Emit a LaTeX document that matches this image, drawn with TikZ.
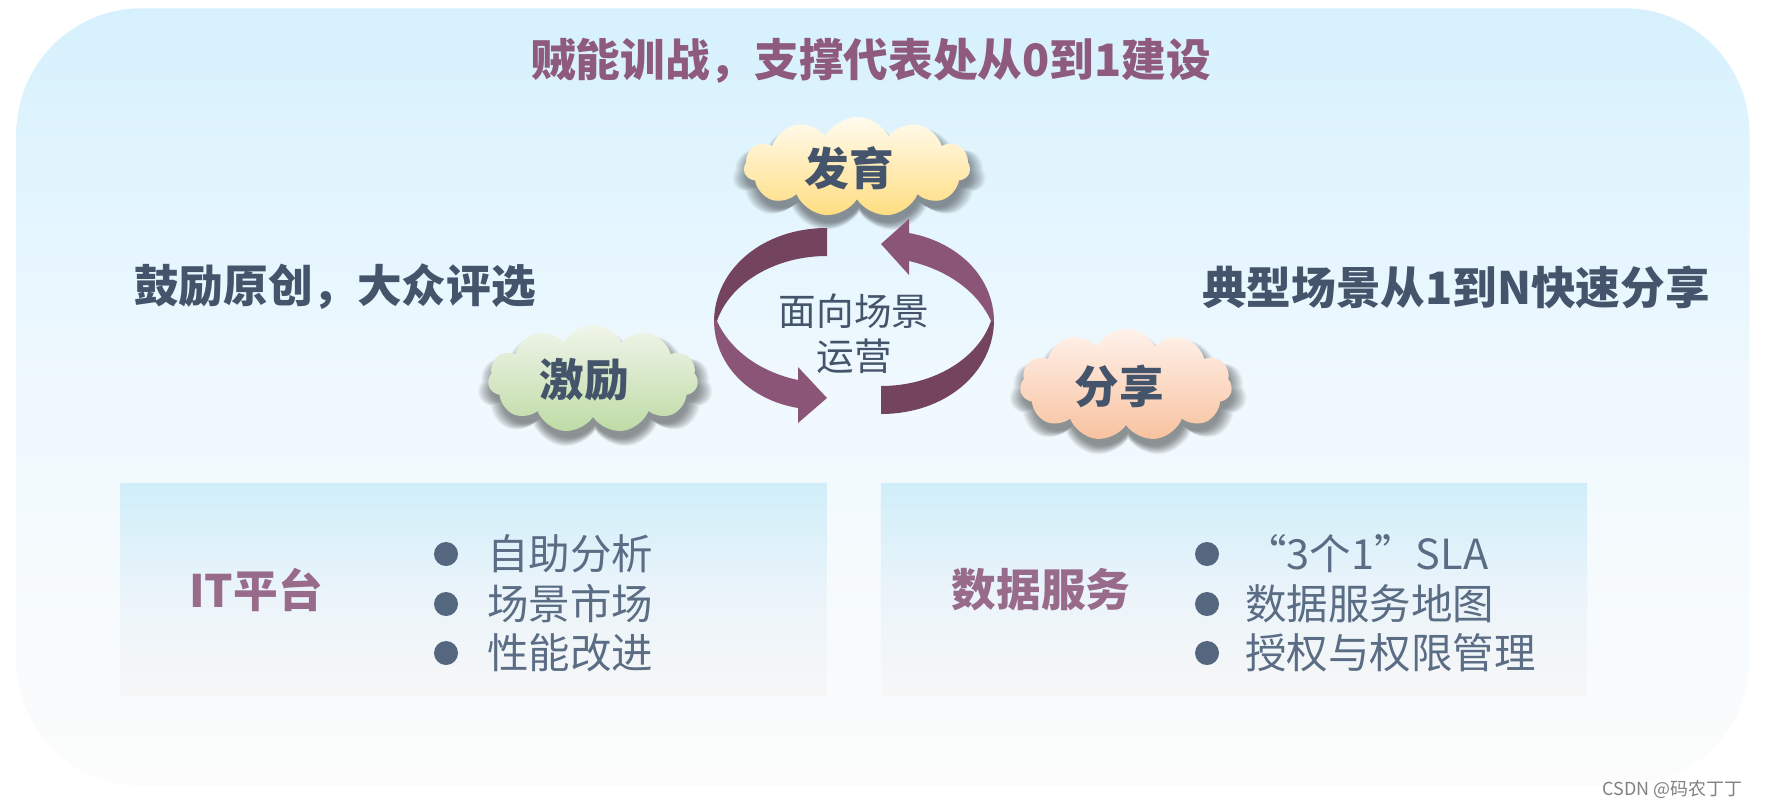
\documentclass[tikz,border=0pt]{standalone}
\usepackage{fontspec}
\setmainfont{Noto Sans CJK SC}
\usetikzlibrary{shapes.symbols,shadows}

\definecolor{slate}{HTML}{44546A}
\definecolor{itemtext}{HTML}{5B6D85}
\definecolor{itemdot}{HTML}{54677F}
\definecolor{plum}{HTML}{8E5A7E}
\definecolor{ringdark}{HTML}{74445F}
\definecolor{ringlight}{HTML}{8B5578}
\definecolor{paneltop}{HTML}{D6F1FD}
\definecolor{panelmid}{HTML}{F0F9FE}
\definecolor{panelend}{HTML}{FCFCFC}
\definecolor{bandtop}{HTML}{D0EEF9}
\definecolor{bandmid}{HTML}{EAF4FA}
\definecolor{bandend}{HTML}{F7F7F8}

\pgfdeclareverticalshading{panelfade}{100bp}{
  color(0bp)=(panelend);
  color(25bp)=(panelend);
  color(50bp)=(panelmid);
  color(75bp)=(paneltop);
  color(100bp)=(paneltop)}
\pgfdeclareverticalshading{bandfade}{100bp}{
  color(0bp)=(bandend);
  color(25bp)=(bandend);
  color(50bp)=(bandmid);
  color(75bp)=(bandtop);
  color(100bp)=(bandtop)}

\tikzset{
    panel/.style = {
        rectangle,
        rounded corners = 1.25cm,
        inner sep       = 0pt,
        minimum width   = 17.32cm,
        minimum height  = 7.77cm,
        shading         = panelfade,
    },
    band/.style = {
        rectangle,
        inner sep       = 0pt,
        minimum width   = 7.06cm,
        minimum height  = 2.11cm,
        shading         = bandfade,
    },
    softlayer/.style = {
        general shadow = {
            fill          = black,
            opacity       = .035,
            shadow xshift = .02cm,
            shadow yshift = -.08cm,
            shadow scale  = #1,
        },
    },
    puff/.style = {
        cloud,
        cloud puffs     = 11,
        cloud puff arc  = 125,
        aspect          = 2,
        inner sep       = 0pt,
        softlayer/.list = {1.12,1.11,1.10,1.09,1.08,1.07,1.06,1.05,1.04,1.03,1.02,1.01,1,.98},
    },
    headline/.style = {
        font = \fontsize{12.7}{15}\selectfont\bfseries,
        text = slate,
    },
    bandtitle/.style = {
        font = \fontsize{12.7}{15}\selectfont\bfseries,
        text = plum,
    },
    item/.style = {
        anchor = west,
        font   = \fontsize{11.8}{14}\selectfont,
        text   = itemtext,
    },
    dot/.style = {
        circle,
        fill          = itemdot,
        inner sep     = 0pt,
        minimum size  = .24cm,
    },
}

\begin{document}
\begin{tikzpicture}[x=.01cm,y=-.01cm]
  \useasboundingbox (0,0) rectangle (1766,806);

  % Fundo
  \node[panel] (Panel) at (883,397) {};
  \node[band] (ITBand) at (473.5,589.5) {};
  \node[band] (DataBand) at (1234,589.5) {};

  % Titulos
  \node[bandtitle] (Title) at (871,61) {贼能训战，支撑代表处从0到1建设};
  \node[headline] (LeftNote) at (335,287) {鼓励原创，大众评选};
  \node[headline] (RightNote) at (1456,287) {典型场景从1到N快速分享};

  % Nuvens
  \node[puff,top color={rgb,255:red,255;green,251;blue,239},bottom color={rgb,255:red,255;green,221;blue,128},minimum width=2.26cm,minimum height=1cm] (FayuCloud) at (857,167) {};
  \node[puff,top color={rgb,255:red,240;green,245;blue,234},bottom color={rgb,255:red,190;green,219;blue,165},minimum width=2.1cm,minimum height=1.08cm] (JiliCloud) at (593,379) {};
  \node[puff,top color={rgb,255:red,255;green,242;blue,235},bottom color={rgb,255:red,248;green,194;blue,159},minimum width=2.12cm,minimum height=1.12cm] (FenxiangCloud) at (1126,385) {};
  \node[headline] (Fayu) at (849,168) {发育};
  \node[headline] (Jili) at (584,380) {激励};
  \node[headline] (Fenxiang) at (1119,386) {分享};

  % Anel
  \fill[ringdark] (827,228) .. controls (762,228) and (714,270) .. (714,322)
    .. controls (716,322) .. (717,321) .. controls (730,283) and (775,256) .. (827,256) -- cycle;
  \fill[ringlight] (717,321) .. controls (730,350) and (760,372) .. (798,380) -- (798,367) -- (827,398)
    -- (798,423) -- (798,408) .. controls (750,400) and (714,365) .. (714,320) -- cycle;
  \fill[ringdark] (881,414) .. controls (946,414) and (994,372) .. (994,320)
    .. controls (992,320) .. (991,321) .. controls (978,359) and (933,386) .. (881,386) -- cycle;
  \fill[ringlight] (991,321) .. controls (978,292) and (948,270) .. (909,261) -- (909,275) -- (881,244)
    -- (909,219) -- (909,233) .. controls (958,242) and (994,277) .. (994,322) -- cycle;
  \node[align=center,text=slate,font=\fontsize{10.7}{12.9}\selectfont] (Center) at (854,334) {面向场景\\运营};

  % Lista IT
  \node[bandtitle,text=plum!90!white] (ITTitle) at (256,590) {IT平台};
  \node[dot] (ITDotA) at (446,554) {};
  \node[dot] (ITDotB) at (446,604) {};
  \node[dot] (ITDotC) at (446,653) {};
  \node[item] (ITItemA) at (475,554) {自助分析};
  \node[item] (ITItemB) at (475,604) {场景市场};
  \node[item] (ITItemC) at (475,653) {性能改进};

  % Lista dados
  \node[bandtitle,text=plum!90!white] (DataTitle) at (1041,590) {数据服务};
  \node[dot] (DataDotA) at (1207,554) {};
  \node[dot] (DataDotB) at (1207,604) {};
  \node[dot] (DataDotC) at (1207,653) {};
  \node[item] (DataItemA) at (1233,554) {“3个1”SLA};
  \node[item] (DataItemB) at (1233,604) {数据服务地图};
  \node[item] (DataItemC) at (1233,653) {授权与权限管理};

  \node[anchor=east,text=gray,font=\fontsize{5.1}{6}\selectfont] (Mark) at (1755,790) {CSDN @码农丁丁};
\end{tikzpicture}
\end{document}
